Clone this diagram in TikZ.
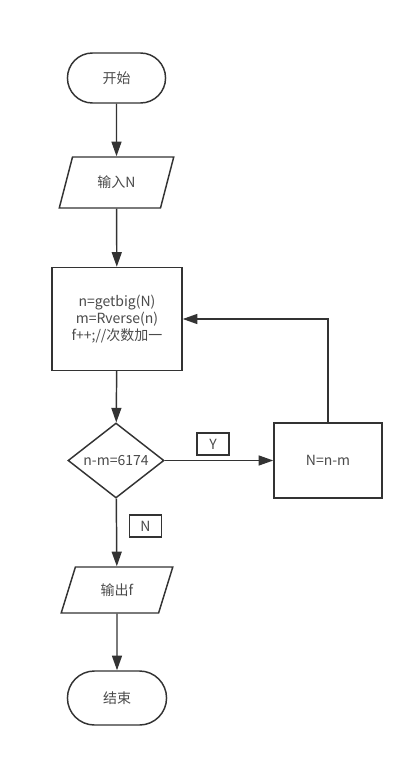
\documentclass[tikz,border=0pt]{standalone}
\usepackage{fontspec}
\setmainfont{Noto Sans CJK SC}
\usetikzlibrary{shapes.geometric,shapes.misc,arrows.meta}
\definecolor{linegray}{HTML}{333333}
\definecolor{textgray}{HTML}{4A4A4A}
\tikzset{
  flow/.style={draw=linegray,line width=1.1pt,text=textgray,font=\fontsize{10.5}{12.75}\selectfont,align=center},
  term/.style={flow,rounded rectangle,minimum width=80.25pt,minimum height=37.5pt},
  io/.style={flow,trapezium,trapezium left angle=72,trapezium right angle=108,trapezium stretches},
  proc/.style={flow,rectangle},
  test/.style={flow,diamond,inner sep=0pt,aspect=1.28,minimum width=72pt,minimum height=56.25pt},
  tag/.style={draw=linegray,line width=0.8pt,text=textgray,font=\fontsize{10.5}{12}\selectfont,minimum width=24pt,minimum height=16.5pt,inner sep=0pt},
  link/.style={draw=linegray,line width=1.1pt,-{Triangle[length=11pt,width=7.5pt]}}
}
\begin{document}
\begin{tikzpicture}[x=0.75pt,y=-0.75pt]
		\useasboundingbox (0,0) rectangle (417,759);
		\node[term] (start) at (116.5,78) {开始};
		\node[io,minimum width=86.25pt,minimum height=38.25pt] (input) at (116.5,182.5) {输入N};
		\node[proc,minimum width=97.5pt,minimum height=77.25pt] (calc) at (117,319) {n=getbig(N)\\m=Rverse(n)\\f++;//次数加一};
		\node[test] (check) at (116,460.5) {n-m=6174};
		\node[proc,minimum width=81pt,minimum height=56.25pt] (update) at (328,460.5) {N=n-m};
		\node[tag] (yes) at (213,444) {Y};
		\node[tag] (no) at (145.5,526) {N};
		\node[io,minimum width=84pt,minimum height=34.5pt] (output) at (117,590) {输出f};
		\node[term,minimum width=81pt,minimum height=40.5pt] (stop) at (117,698) {结束};

		\draw[link] (start) -- (input);
		\draw[link] (input) -- (calc);
		\draw[link] (calc) -- (check);
		\draw[link] (check) -- (update);
		\draw[link] (update.north) |- (calc.east);
		\draw[link] (check) -- (output);
		\draw[link] (output) -- (stop);
	\end{tikzpicture}
\end{document}
